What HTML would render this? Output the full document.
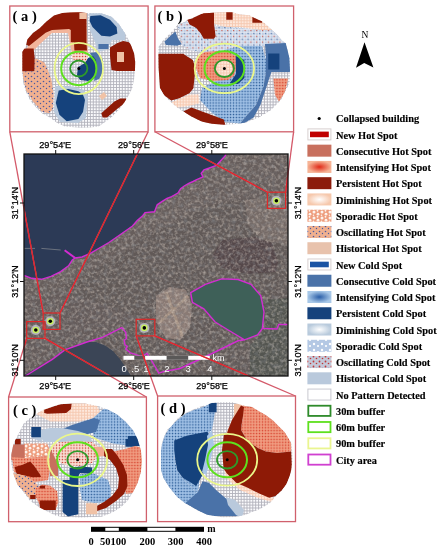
<!DOCTYPE html>
<html><head><meta charset="utf-8"><title>Hot spot analysis map</title>
<style>html,body{margin:0;padding:0;background:#fff;width:445px;height:550px;overflow:hidden}svg{display:block}</style>
</head><body>
<svg width="445" height="550" viewBox="0 0 445 550">
<g clip-path="url(#cM)">
<rect x="24" y="154" width="264" height="222" fill="#615957"/>
<polygon points="226.0,154.0 288.0,154.0 288.0,200.0 250.0,198.0 210.0,205.0 175.0,222.0 140.0,240.0 110.0,262.0 80.0,275.0 60.0,290.0 24.0,300.0 24.0,275.0 60.0,272.0 75.0,258.0 105.0,240.0 146.0,211.0 202.0,172.0" fill="#675e5c"/>
<polygon points="245.0,200.0 288.0,196.0 288.0,245.0 262.0,240.0 248.0,225.0" fill="#756a66"/>
<polygon points="24.0,300.0 60.0,292.0 90.0,300.0 120.0,310.0 136.0,318.0 128.0,328.0 100.0,338.0 70.0,346.0 40.0,362.0 24.0,370.0" fill="#645b5a"/>
<polygon points="222.0,240.0 255.0,237.0 272.0,243.0 278.0,262.0 276.0,272.0 248.0,274.0 222.0,268.0 212.0,256.0" fill="#55484a"/>
<polygon points="262.0,300.0 288.0,298.0 288.0,376.0 250.0,376.0 250.0,345.0 265.0,330.0" fill="#535550"/>
<polygon points="156.0,296.0 170.0,287.0 186.0,290.0 192.0,305.0 190.0,328.0 180.0,340.0 166.0,338.0 156.0,322.0" fill="#8a7a74"/>
<path d="M166 292L182 336M160 322L188 296" stroke="#a89484" stroke-width="3" opacity="0.8"/>
<rect x="24" y="154" width="264" height="222" fill="#fff" filter="url(#nz)" opacity="0.5"/>
<rect x="24" y="154" width="264" height="222" fill="#000" filter="url(#nz2)" opacity="0.5"/>
<polygon points="24.0,154.0 225.6,154.0 225.5,155.4 216.5,165.3 209.3,168.0 204.0,169.8 201.2,173.4 203.0,177.0 196.7,179.7 193.1,181.5 188.7,183.3 184.2,186.0 180.6,188.7 177.9,193.1 171.6,196.7 167.0,198.5 162.6,201.2 157.2,204.8 154.5,211.8 145.0,212.6 142.7,215.7 137.2,220.5 132.5,226.0 121.5,233.8 108.9,242.5 99.4,248.0 91.6,252.7 82.0,257.0 75.2,258.0 72.3,260.0 68.5,265.8 60.7,271.6 51.0,276.4 41.4,279.3 31.7,278.3 24.0,275.4" fill="#2c3a56"/>
<path d="M24 248.4H35M41.4 248.4L60.7 250" stroke="#7a8088" stroke-width="1" fill="none" opacity="0.8"/>
<polygon points="190.7,292.6 205.4,284.4 221.7,278.9 238.0,279.5 251.0,284.4 260.8,295.8 264.0,312.0 262.4,328.4 257.5,335.0 244.5,339.8 228.2,330.0 215.2,322.0 203.8,308.9 192.4,302.4" fill="#3e6058"/>
<polygon points="24.0,376.0 24.0,375.0 40.0,366.5 52.3,359.3 64.9,350.0 86.9,342.0 96.0,342.0 105.0,345.5 113.0,351.0 120.0,359.0 126.0,368.0 131.0,376.0" fill="#3b4556"/>
<polyline points="225.6,154.0 225.5,155.4 216.5,165.3 209.3,168.0 204.0,169.8 201.2,173.4 203.0,177.0 196.7,179.7 193.1,181.5 188.7,183.3 184.2,186.0 180.6,188.7 177.9,193.1 171.6,196.7 167.0,198.5 162.6,201.2 157.2,204.8 154.5,211.8 145.0,212.6 142.7,215.7 137.2,220.5 132.5,226.0 121.5,233.8 108.9,242.5 99.4,248.0 91.6,252.7 82.0,257.0 75.2,258.0 72.3,260.0 68.5,265.8 60.7,271.6 51.0,276.4 41.4,279.3 31.7,278.3 24.0,275.4" fill="none" stroke="#d22cd2" stroke-width="1.4"/>
<polyline points="75.2,258.0 64.6,250.3" fill="none" stroke="#d22cd2" stroke-width="2"/>
<polygon points="190.7,292.6 205.4,284.4 221.7,278.9 238.0,279.5 251.0,284.4 260.8,295.8 264.0,312.0 262.4,328.4 257.5,335.0 244.5,339.8 228.2,330.0 215.2,322.0 203.8,308.9 192.4,302.4" fill="none" stroke="#d22cd2" stroke-width="1.4"/>
<polyline points="24.0,377.0 27.0,375.0 52.3,359.3 64.9,349.9 86.9,342.0 102.6,337.3 121.8,327.6 125.7,332.3 126.5,338.6 124.2,340.2 125.0,344.9 127.3,346.5 125.7,348.8 130.4,352.8 137.5,355.1 141.5,356.7 147.0,353.5 152.5,362.2 158.8,373.2 163.5,371.6 180.0,368.5 209.0,355.0 238.0,340.8 244.5,339.8" fill="none" stroke="#d22cd2" stroke-width="1.4"/>
<polyline points="262.4,328.4 277.0,329.0 278.7,324.5 290.0,324.5" fill="none" stroke="#d22cd2" stroke-width="1.4"/>
<circle cx="50.3" cy="321.3" r="5" fill="#c8c8d8" opacity="0.75"/>
<circle cx="50.3" cy="321.3" r="3.3" fill="#c8f060"/>
<circle cx="50.3" cy="321.3" r="1.8" fill="#000"/>
<circle cx="35.8" cy="330" r="5" fill="#c8c8d8" opacity="0.75"/>
<circle cx="35.8" cy="330" r="3.3" fill="#c8f060"/>
<circle cx="35.8" cy="330" r="1.8" fill="#000"/>
<circle cx="144.3" cy="327.9" r="5" fill="#c8c8d8" opacity="0.75"/>
<circle cx="144.3" cy="327.9" r="3.3" fill="#c8f060"/>
<circle cx="144.3" cy="327.9" r="1.8" fill="#000"/>
<circle cx="276.4" cy="200.7" r="5" fill="#c8c8d8" opacity="0.75"/>
<circle cx="276.4" cy="200.7" r="3.3" fill="#c8f060"/>
<circle cx="276.4" cy="200.7" r="1.8" fill="#000"/>
<rect x="43.2" y="313" width="16.8" height="16.4" fill="none" stroke="#e02828" stroke-width="1.2"/>
<rect x="26.7" y="321.6" width="18.3" height="16.8" fill="none" stroke="#e02828" stroke-width="1.2"/>
<rect x="136.2" y="319.3" width="18.6" height="16.6" fill="none" stroke="#e02828" stroke-width="1.2"/>
<rect x="267.4" y="192.2" width="18.2" height="16.2" fill="none" stroke="#e02828" stroke-width="1.2"/>
<rect x="123.5" y="355.8" width="86.3" height="4" fill="#fff"/>
<rect x="134.3" y="355.8" width="10.8" height="4" fill="#5a5858"/>
<rect x="166.6" y="355.8" width="21.6" height="4" fill="#5a5858"/>
<text x="212.5" y="360.6" font-family="'Liberation Sans', Arial, sans-serif" font-size="9" fill="#fff">km</text>
<text x="124.2" y="372" font-family="'Liberation Sans', Arial, sans-serif" font-size="9.5" fill="#fff" text-anchor="middle">0</text>
<text x="135.3" y="372" font-family="'Liberation Sans', Arial, sans-serif" font-size="9.5" fill="#fff" text-anchor="middle">.5</text>
<text x="145.9" y="372" font-family="'Liberation Sans', Arial, sans-serif" font-size="9.5" fill="#fff" text-anchor="middle">1</text>
<text x="166.8" y="372" font-family="'Liberation Sans', Arial, sans-serif" font-size="9.5" fill="#fff" text-anchor="middle">2</text>
<text x="188.2" y="372" font-family="'Liberation Sans', Arial, sans-serif" font-size="9.5" fill="#fff" text-anchor="middle">3</text>
<text x="209.8" y="372" font-family="'Liberation Sans', Arial, sans-serif" font-size="9.5" fill="#fff" text-anchor="middle">4</text>
</g>
<line x1="9.8" y1="131.8" x2="43.2" y2="313" stroke="#d45a6a" stroke-width="1.3"/>
<line x1="148.1" y1="131.8" x2="60" y2="313" stroke="#d45a6a" stroke-width="1.3"/>
<line x1="154.9" y1="131.8" x2="267.4" y2="192.2" stroke="#d45a6a" stroke-width="1.3"/>
<line x1="293.6" y1="131.8" x2="285.6" y2="192.2" stroke="#d45a6a" stroke-width="1.3"/>
<line x1="26.7" y1="338.4" x2="8.6" y2="397" stroke="#d45a6a" stroke-width="1.3"/>
<line x1="45" y1="338.4" x2="146.4" y2="397" stroke="#d45a6a" stroke-width="1.3"/>
<line x1="136.2" y1="335.9" x2="157.6" y2="396" stroke="#d45a6a" stroke-width="1.3"/>
<line x1="154.8" y1="335.9" x2="295.5" y2="396" stroke="#d45a6a" stroke-width="1.3"/>
<g clip-path="url(#cM)">
<line x1="9.8" y1="131.8" x2="43.2" y2="313" stroke="#e0242c" stroke-width="1.3"/>
<line x1="148.1" y1="131.8" x2="60" y2="313" stroke="#e0242c" stroke-width="1.3"/>
<line x1="154.9" y1="131.8" x2="267.4" y2="192.2" stroke="#e0242c" stroke-width="1.3"/>
<line x1="293.6" y1="131.8" x2="285.6" y2="192.2" stroke="#e0242c" stroke-width="1.3"/>
<line x1="26.7" y1="338.4" x2="8.6" y2="397" stroke="#e0242c" stroke-width="1.3"/>
<line x1="45" y1="338.4" x2="146.4" y2="397" stroke="#e0242c" stroke-width="1.3"/>
<line x1="136.2" y1="335.9" x2="157.6" y2="396" stroke="#e0242c" stroke-width="1.3"/>
<line x1="154.8" y1="335.9" x2="295.5" y2="396" stroke="#e0242c" stroke-width="1.3"/>
</g>
<rect x="24" y="154" width="264" height="222" fill="none" stroke="#111" stroke-width="1.3"/>
<line x1="55.7" y1="150" x2="55.7" y2="154" stroke="#111" stroke-width="1"/>
<line x1="55.7" y1="376" x2="55.7" y2="380" stroke="#111" stroke-width="1"/>
<line x1="133.7" y1="150" x2="133.7" y2="154" stroke="#111" stroke-width="1"/>
<line x1="133.7" y1="376" x2="133.7" y2="380" stroke="#111" stroke-width="1"/>
<line x1="211.8" y1="150" x2="211.8" y2="154" stroke="#111" stroke-width="1"/>
<line x1="211.8" y1="376" x2="211.8" y2="380" stroke="#111" stroke-width="1"/>
<text x="55.2" y="147.7" font-family="'Liberation Sans', Arial, sans-serif" font-size="9.2" text-anchor="middle" stroke="#000" stroke-width="0.25">29°54'E</text>
<text x="55.2" y="389.4" font-family="'Liberation Sans', Arial, sans-serif" font-size="9.1" text-anchor="middle" stroke="#000" stroke-width="0.25">29°54'E</text>
<text x="134" y="147.7" font-family="'Liberation Sans', Arial, sans-serif" font-size="9.2" text-anchor="middle" stroke="#000" stroke-width="0.25">29°56'E</text>
<text x="134" y="389.4" font-family="'Liberation Sans', Arial, sans-serif" font-size="9.1" text-anchor="middle" stroke="#000" stroke-width="0.25">29°56'E</text>
<text x="212" y="147.7" font-family="'Liberation Sans', Arial, sans-serif" font-size="9.2" text-anchor="middle" stroke="#000" stroke-width="0.25">29°58'E</text>
<text x="212" y="389.4" font-family="'Liberation Sans', Arial, sans-serif" font-size="9.1" text-anchor="middle" stroke="#000" stroke-width="0.25">29°58'E</text>
<line x1="20" y1="203" x2="24" y2="203" stroke="#111" stroke-width="1"/>
<line x1="288" y1="203" x2="292" y2="203" stroke="#111" stroke-width="1"/>
<text transform="translate(17.8,203) rotate(-90)" font-family="'Liberation Sans', Arial, sans-serif" font-size="9.2" text-anchor="middle" stroke="#000" stroke-width="0.25">31°14'N</text>
<text transform="translate(301.2,203) rotate(-90)" font-family="'Liberation Sans', Arial, sans-serif" font-size="9.2" text-anchor="middle" stroke="#000" stroke-width="0.25">31°14'N</text>
<line x1="20" y1="281.5" x2="24" y2="281.5" stroke="#111" stroke-width="1"/>
<line x1="288" y1="281.5" x2="292" y2="281.5" stroke="#111" stroke-width="1"/>
<text transform="translate(17.8,281.5) rotate(-90)" font-family="'Liberation Sans', Arial, sans-serif" font-size="9.2" text-anchor="middle" stroke="#000" stroke-width="0.25">31°12'N</text>
<text transform="translate(301.2,281.5) rotate(-90)" font-family="'Liberation Sans', Arial, sans-serif" font-size="9.2" text-anchor="middle" stroke="#000" stroke-width="0.25">31°12'N</text>
<line x1="20" y1="360.3" x2="24" y2="360.3" stroke="#111" stroke-width="1"/>
<line x1="288" y1="360.3" x2="292" y2="360.3" stroke="#111" stroke-width="1"/>
<text transform="translate(17.8,360.3) rotate(-90)" font-family="'Liberation Sans', Arial, sans-serif" font-size="9.2" text-anchor="middle" stroke="#000" stroke-width="0.25">31°10'N</text>
<text transform="translate(301.2,360.3) rotate(-90)" font-family="'Liberation Sans', Arial, sans-serif" font-size="9.2" text-anchor="middle" stroke="#000" stroke-width="0.25">31°10'N</text>
<text x="364.9" y="37.8" font-family="'Liberation Serif', 'Times New Roman', serif" font-size="9.5" text-anchor="middle">N</text>
<polygon points="364.5,42.2 373.4,67.4 364.2,62.9 356.0,67.8" fill="#000"/>
<rect x="91" y="526.8" width="113" height="5" fill="#000"/>
<rect x="105.3" y="527.8" width="13.5" height="3" fill="#fff"/>
<rect x="147.4" y="527.8" width="28" height="3" fill="#fff"/>
<text x="207.2" y="531.8" font-family="'Liberation Serif', 'Times New Roman', serif" font-weight="bold" font-size="10">m</text>
<text x="91" y="544.6" font-family="'Liberation Serif', 'Times New Roman', serif" font-weight="bold" font-size="10.5" text-anchor="middle">0</text>
<text x="113" y="544.6" font-family="'Liberation Serif', 'Times New Roman', serif" font-weight="bold" font-size="10.5" text-anchor="middle">50100</text>
<text x="147.4" y="544.6" font-family="'Liberation Serif', 'Times New Roman', serif" font-weight="bold" font-size="10.5" text-anchor="middle">200</text>
<text x="175.6" y="544.6" font-family="'Liberation Serif', 'Times New Roman', serif" font-weight="bold" font-size="10.5" text-anchor="middle">300</text>
<text x="204" y="544.6" font-family="'Liberation Serif', 'Times New Roman', serif" font-weight="bold" font-size="10.5" text-anchor="middle">400</text>

<defs>
 <pattern id="gW" width="2.9" height="2.9" patternUnits="userSpaceOnUse">
  <rect width="2.9" height="2.9" fill="#fbfbfd"/>
  <path d="M0 0.45H2.9M0.45 0V2.9" stroke="#b2b2bc" stroke-width="0.95" fill="none"/>
 </pattern>
 <pattern id="gB" width="2.9" height="2.9" patternUnits="userSpaceOnUse">
  <rect width="2.9" height="2.9" fill="#a6c6ea"/>
  <rect x="0.75" y="0.75" width="1.45" height="1.45" fill="#2a5a96"/>
 </pattern>
 <pattern id="gC" width="2.9" height="2.9" patternUnits="userSpaceOnUse">
  <rect width="2.9" height="2.9" fill="#f2a286"/>
  <rect x="0.75" y="0.75" width="1.45" height="1.45" fill="#d6402c"/>
 </pattern>
 <pattern id="gP" width="2.9" height="2.9" patternUnits="userSpaceOnUse">
  <rect width="2.9" height="2.9" fill="#fde8dc"/>
  <path d="M0 0.45H2.9M0.45 0V2.9" stroke="#f6c8b0" stroke-width="0.95" fill="none"/>
 </pattern>
 <pattern id="gO" width="2.9" height="2.9" patternUnits="userSpaceOnUse">
  <rect width="2.9" height="2.9" fill="#eeaa8c"/>
  <rect x="1" y="1" width="0.9" height="0.9" fill="#6a78b0"/>
 </pattern>
 <pattern id="gR" width="2.9" height="2.9" patternUnits="userSpaceOnUse">
  <rect width="2.9" height="2.9" fill="#fbe2d8"/>
  <rect x="0.8" y="0.8" width="1.3" height="1.3" fill="#c42a1e"/>
 </pattern>
 <pattern id="osB" width="5.8" height="5.8" patternUnits="userSpaceOnUse">
  <rect width="5.8" height="5.8" fill="#bccbe0"/>
  <rect x="0.8" y="0.8" width="1.3" height="1.3" fill="#c85a4c"/>
  <rect x="3.7" y="3.7" width="1.3" height="1.3" fill="#4a70a8"/>
  <path d="M0 0.4H5.8M0 3.3H5.8M0.4 0V5.8M3.3 0V5.8" stroke="#e8ecf4" stroke-width="0.8"/>
 </pattern>
 <pattern id="gX" width="2.9" height="2.9" patternUnits="userSpaceOnUse">
  <rect width="2.9" height="2.9" fill="#c4cce0"/>
  <rect x="0.9" y="0.9" width="1.1" height="1.1" fill="#c0584c"/>
 </pattern>
 <pattern id="spH" width="8" height="6" patternUnits="userSpaceOnUse">
  <rect width="8" height="6" fill="#ee9c7c"/>
  <circle cx="2" cy="2" r="1.5" fill="#fdf2ec"/><circle cx="6" cy="4.2" r="1.4" fill="#fdf2ec"/><circle cx="5.5" cy="0.8" r="0.9" fill="#fdf2ec"/><circle cx="1.5" cy="5.2" r="0.8" fill="#fdf2ec"/>
 </pattern>
 <pattern id="osH" width="6" height="5" patternUnits="userSpaceOnUse">
  <rect width="6" height="5" fill="#f0b090"/>
  <circle cx="1.5" cy="1.5" r="0.8" fill="#4a5aa0"/><circle cx="4.5" cy="3.5" r="0.7" fill="#4a5aa0"/>
 </pattern>
 <pattern id="spC" width="8" height="6" patternUnits="userSpaceOnUse">
  <rect width="8" height="6" fill="#b4c8e4"/>
  <circle cx="2" cy="2" r="1.2" fill="#fff"/><circle cx="6" cy="4" r="1.1" fill="#fff"/>
 </pattern>
 <pattern id="osC" width="6" height="5" patternUnits="userSpaceOnUse">
  <rect width="6" height="5" fill="#c4c8d8"/>
  <circle cx="1.5" cy="1.5" r="0.9" fill="#c03838"/><circle cx="4.5" cy="3.5" r="0.8" fill="#c03838"/>
 </pattern>
 <radialGradient id="inH"><stop offset="0" stop-color="#e02a18"/><stop offset="1" stop-color="#f6b496"/></radialGradient>
 <radialGradient id="dmH"><stop offset="0" stop-color="#ffffff"/><stop offset="1" stop-color="#f6c8ac"/></radialGradient>
 <radialGradient id="inC"><stop offset="0" stop-color="#2a5ea8"/><stop offset="1" stop-color="#a8c8e8"/></radialGradient>
 <radialGradient id="dmC"><stop offset="0" stop-color="#ffffff"/><stop offset="1" stop-color="#b8cadc"/></radialGradient>
 <clipPath id="cA"><polygon points="62.4,13.1 70,12.5 78.4,12.3 88.9,13.2 101.3,13.2 111.5,16.8 118.8,24 124.7,32.8 129,40.6 131.4,46.2 134.1,53.5 135.2,62 135,70 134.1,79.1 132.3,88.2 128.6,95.5 124.1,102.7 118.6,110 111.4,117.3 104.1,122.7 98.6,126.4 90,127.6 80,127.8 65,126.4 56.8,122.7 49.5,117.3 42.3,113.6 36.8,108.2 30.5,100.9 25.9,91.8 23.2,82.7 22.3,71.8 22.3,51.8 25.9,46.5 27.3,39.5 33,33 39.9,28 46.2,21.7 54,15.4"/></clipPath>
 <clipPath id="cB"><polygon points="209.3,13 220,12.3 232,12.3 240,14.5 249.3,15.2 252.4,17 262.2,21.5 266,24.5 272.1,30.1 277.1,34.4 282,40.6 285.7,43.1 287.6,50.5 289.4,57.9 290,70 289.4,81.6 287.6,86.5 284.5,92.7 280.8,100.1 275.8,105.1 270.9,110 264.7,113.7 258.5,117.4 252.4,119.9 246.2,122.4 236,124 223.8,124.8 211.6,123.8 201.5,121.6 191.4,116.5 183.3,111.5 177.2,107.4 170.2,101.4 164.1,95.3 160,88.2 158.6,68 158.4,53.8 158.4,47 163,40.4 168.5,35 173.9,29.6 178,24.2 186,21.3 187.2,19.6 192.8,18 203,13.2"/></clipPath>
 <clipPath id="cC"><polygon points="71.7,403.4 85,403.5 99.4,406.6 108.1,409.8 116.8,414.2 125.6,421.8 133.2,430.6 137.6,439.3 140.9,450.2 141.9,461.1 140.9,472 137.6,483 133.2,491.7 127.8,500.4 121.2,507 112.5,512.4 101.6,516.8 80,517.6 62,516.8 56,515.7 47.3,511.4 38.6,507 29.8,500.4 23.3,491.7 17.8,485.2 13.5,474.2 11.3,463.3 11.3,454.6 13.5,443.7 17.8,434.9 23.7,423.5 30,418 36.3,413.7 44.2,409.6 50.5,407.2 60,404.2"/></clipPath>
 <clipPath id="cD"><polygon points="218.2,402.2 232,402.2 245,405.9 252,407.1 259,411.2 266,415.3 273,420.5 278.9,426.4 284.7,432.2 288.2,438.1 291.2,442.7 292.3,452 292.3,462 291.2,470 289.6,476.5 286.5,484 281.8,490.6 275.5,496.5 270,503 260,509 245,515 235,517 222,517.2 207.2,514.8 196.2,509.8 185.2,503.2 177.3,496.9 169.4,487.5 163.5,478 161,470 161,450 161.6,444.8 163.9,436.9 167.1,429.8 171,426.7 176.5,419.6 183.6,414.1 191.5,410.2 199.3,407 207.2,404.7 211.9,403.1"/></clipPath>
 <filter id="nz" x="0" y="0" width="100%" height="100%">
  <feTurbulence type="fractalNoise" baseFrequency="0.32" numOctaves="2" seed="7" result="t"/>
  <feColorMatrix in="t" type="matrix" values="0 0 0 0 0.86  0 0 0 0 0.77  0 0 0 0 0.68  2.2 0 0 0 -0.95" result="w"/>
  <feComposite in="w" in2="SourceGraphic" operator="in"/>
 </filter>
 <filter id="nz2" x="0" y="0" width="100%" height="100%">
  <feTurbulence type="fractalNoise" baseFrequency="0.25" numOctaves="2" seed="3" result="t"/>
  <feColorMatrix in="t" type="matrix" values="0 0 0 0 0.22  0 0 0 0 0.23  0 0 0 0 0.25  0 2.2 0 0 -0.95" result="w"/>
  <feComposite in="w" in2="SourceGraphic" operator="in"/>
 </filter>
 <clipPath id="cM"><rect x="24" y="154" width="264" height="222"/></clipPath>
</defs>

<rect x="9.8" y="6.0" width="138.3" height="125.8" fill="#fff" stroke="#d0606c" stroke-width="1.3"/>
<rect x="154.9" y="6.0" width="138.7" height="125.8" fill="#fff" stroke="#d0606c" stroke-width="1.3"/>
<rect x="8.6" y="397" width="137.8" height="124.7" fill="#fff" stroke="#d0606c" stroke-width="1.3"/>
<rect x="157.6" y="396" width="137.9" height="125.6" fill="#fff" stroke="#d0606c" stroke-width="1.3"/>
<g clip-path="url(#cA)">
<rect x="20.300000000000004" y="10.299999999999997" width="116.8" height="118.6" fill="url(#gW)"/>
<polygon points="26.0,50.0 34.0,36.0 47.0,22.0 62.0,13.0 86.0,11.0 88.0,54.0 72.0,54.0 68.0,33.0 52.0,33.0 40.0,44.0 30.0,54.0" fill="#f2b49a"/>
<polygon points="24.0,44.0 26.0,36.0 34.0,28.0 42.0,20.0 52.0,13.0 62.4,10.0 78.4,10.0 86.5,10.0 86.5,42.5 87.0,50.6 74.4,50.6 74.0,42.5 70.8,42.0 70.8,30.0 69.0,29.0 52.0,30.0 45.6,32.8 34.6,41.6 29.0,46.0" fill="#8e1a06"/>
<polygon points="79.4,13.0 86.7,13.0 86.7,19.0 79.4,19.0" fill="#f0c2a6"/>
<polygon points="20.0,48.5 33.6,48.5 35.0,60.0 34.6,71.6 20.0,71.6" fill="#8e1a06"/>
<polygon points="34.6,58.0 44.0,62.0 47.8,69.4 51.4,79.6 53.6,94.2 52.9,108.8 49.2,113.2 42.0,111.7 33.0,101.5 25.8,89.8 22.0,71.6 34.6,71.6" fill="url(#osH)"/>
<polygon points="89.0,13.0 95.0,12.0 108.0,14.0 120.0,20.0 126.0,30.0 125.0,40.0 112.0,40.0 106.0,50.0 98.0,52.0 95.0,42.0 90.0,30.0" fill="#b9c9dc"/>
<polygon points="90.3,16.0 100.6,15.3 110.0,19.7 116.6,27.0 117.4,33.6 110.0,36.5 101.3,35.8 92.5,27.0 89.6,21.0" fill="#15427c"/>
<polygon points="98.4,44.0 108.6,44.0 108.6,49.0 98.4,49.0" fill="#4a72a8"/>
<polygon points="110.0,47.4 117.4,43.0 123.2,40.9 129.0,42.3 133.4,47.4 136.0,56.0 136.0,71.0 117.0,71.0 111.5,70.0 110.0,56.0" fill="#8e1a06"/>
<polygon points="117.0,52.0 124.0,52.0 124.0,62.0 117.0,62.0" fill="#f0c2a6"/>
<polygon points="90.0,53.0 98.0,52.0 103.0,60.0 103.0,72.0 99.0,79.0 94.0,81.0 96.0,68.0 93.0,58.0" fill="#4a72a8"/>
<polygon points="78.0,67.0 85.0,63.0 88.0,58.0 93.0,56.0 96.0,60.0 97.0,70.0 95.0,78.0 88.0,81.0 80.0,80.0 77.0,75.0" fill="#15427c"/>
<polygon points="72.0,52.0 87.0,52.0 88.0,58.0 85.0,62.0 76.0,62.0 72.0,58.0" fill="url(#gR)"/>
<polygon points="55.0,86.0 70.0,86.0 84.0,90.0 88.0,96.0 86.0,118.0 78.0,123.0 60.0,122.0 54.0,112.0" fill="#b9c9dc"/>
<polygon points="58.7,90.6 68.2,89.1 78.4,91.3 82.8,94.2 85.0,100.0 83.0,112.0 78.4,119.0 66.7,121.2 59.4,114.7 55.8,103.0" fill="#15427c"/>
<polygon points="101.3,113.2 114.4,101.5 120.3,98.6 126.0,98.6 126.9,101.5 117.4,108.8 107.0,117.6 102.7,117.6" fill="#8e1a06"/>
<polygon points="99.0,96.0 104.0,92.0 107.0,96.0 102.0,100.0" fill="#f0c2a6"/>
</g>
<ellipse cx="78.8" cy="68.5" rx="24.3" ry="25.6" fill="none" stroke="#eaf78a" stroke-width="1.8"/>
<ellipse cx="78.8" cy="68.5" rx="17.6" ry="16.7" fill="none" stroke="#5ee01e" stroke-width="2"/>
<ellipse cx="78.8" cy="68.5" rx="8.6" ry="8.0" fill="none" stroke="#2e9a2a" stroke-width="1.8"/>
<circle cx="78.8" cy="68.5" r="1.5" fill="#000"/>
<g clip-path="url(#cB)">
<rect x="156.39999999999998" y="10.299999999999997" width="135.6" height="116.4" fill="url(#gW)"/>
<polygon points="196.0,10.0 255.0,10.0 266.0,24.5 272.0,30.0 260.0,30.0 240.0,27.0 225.0,27.0 215.0,24.0" fill="url(#gP)"/>
<polygon points="178.0,26.0 186.0,21.5 200.0,28.0 215.0,26.0 240.0,28.0 262.0,30.0 272.0,30.1 277.0,34.4 282.0,40.6 285.7,43.1 280.0,46.0 265.0,46.0 245.0,47.0 225.0,51.0 205.0,53.0 190.0,50.0 182.0,45.0" fill="url(#osB)"/>
<polygon points="226.3,12.0 232.6,12.0 232.6,19.8 226.3,19.8" fill="#8e1a06"/>
<polygon points="252.4,17.1 258.0,17.1 258.0,19.5 262.2,19.5 262.2,22.7 252.4,22.7" fill="#8e1a06"/>
<polygon points="187.2,19.8 192.8,18.2 194.0,15.0 203.0,13.5 209.3,10.0 214.0,10.0 214.0,23.7 215.6,36.3 214.0,38.7 203.8,38.7 200.6,33.2 196.0,27.7 189.6,24.5" fill="#8e1a06"/>
<polygon points="164.4,41.8 170.0,36.3 175.4,31.6 177.8,37.9 181.7,44.2 177.0,45.8 166.0,45.0" fill="#4a72a8"/>
<polygon points="262.0,70.0 292.0,66.0 292.0,100.0 276.0,112.0 258.0,120.0 262.0,100.0" fill="url(#gW)"/>
<polygon points="224.0,50.0 240.0,46.0 262.0,46.0 266.0,60.0 271.4,72.0 266.0,72.0 263.5,86.5 256.0,105.0 245.0,117.4 240.0,123.6 225.0,122.0 212.0,113.0 200.0,100.0 202.0,88.0 218.0,80.0 232.0,72.0" fill="url(#gB)"/>
<polygon points="265.0,44.0 286.0,43.0 292.0,50.0 292.0,72.0 266.0,72.0 266.0,60.0" fill="#4a72a8"/>
<polygon points="268.2,53.6 279.4,53.6 279.4,69.6 268.2,69.6" fill="#15427c"/>
<polygon points="271.4,72.0 266.6,86.5 260.4,105.0 253.6,117.4 243.7,123.6 235.0,126.0 228.0,126.0 240.0,123.6 245.0,117.4 256.0,105.0 263.5,86.5 266.0,72.0" fill="#4a72a8"/>
<polygon points="273.4,78.5 288.2,78.5 285.0,92.0 279.0,101.4 275.0,95.0" fill="url(#gC)"/>
<polygon points="197.0,56.0 205.0,52.0 216.0,51.0 228.0,52.0 236.0,56.0 238.0,64.0 234.0,76.0 228.0,80.0 212.0,81.0 200.0,78.0 196.0,68.0" fill="url(#gC)"/>
<polygon points="217.0,63.0 224.0,60.0 231.0,63.0 233.0,70.0 228.0,76.0 220.0,76.0 216.0,70.0" fill="url(#gP)"/>
<polygon points="235.7,56.0 244.4,60.0 244.4,78.0 238.0,84.0 230.0,83.0 236.0,74.0" fill="#15427c"/>
<polygon points="156.0,53.8 183.3,53.8 186.5,56.0 192.8,60.0 195.5,68.0 193.4,88.2 189.4,93.3 179.3,98.3 171.2,100.4 164.1,95.3 160.0,88.2 156.0,88.0" fill="#8e1a06"/>
<polygon points="171.2,102.4 179.3,99.0 189.4,94.5 198.5,94.3 199.5,103.4 185.3,106.4 177.2,107.4" fill="url(#gP)"/>
<polygon points="183.3,111.5 191.4,107.4 207.6,113.5 223.8,119.6 226.0,127.0 207.6,124.0 191.4,118.0" fill="#8e1a06"/>
</g>
<ellipse cx="224.4" cy="68.4" rx="29.7" ry="24.8" fill="none" stroke="#eaf78a" stroke-width="1.8"/>
<ellipse cx="224.4" cy="68.4" rx="19.9" ry="17.2" fill="none" stroke="#5ee01e" stroke-width="2"/>
<ellipse cx="224.4" cy="68.4" rx="9.6" ry="8.6" fill="none" stroke="#2e9a2a" stroke-width="1.8"/>
<circle cx="224.4" cy="68.4" r="1.5" fill="#000"/>
<g clip-path="url(#cC)">
<rect x="9.299999999999997" y="402.0" width="134.6" height="117.0" fill="url(#gW)"/>
<polygon points="36.0,413.7 44.0,409.0 72.0,403.0 96.0,403.0 100.0,412.0 94.0,418.0 78.0,421.6 50.0,421.6" fill="url(#gP)"/>
<polygon points="44.2,409.8 50.5,407.4 60.0,404.3 71.7,403.5 71.0,409.0 66.2,413.0 47.3,413.7 44.2,413.0" fill="#8e1a06"/>
<polygon points="92.5,418.4 103.5,409.0 111.3,409.0 122.3,415.3 131.8,424.7 136.5,435.8 138.0,442.0 125.5,445.2 113.0,443.6 103.5,440.5 94.0,437.3 92.5,429.5" fill="url(#gB)"/>
<polygon points="60.0,430.0 72.0,425.0 94.0,418.0 100.0,420.0 96.0,432.0 88.0,434.0 72.0,437.0 60.0,436.0" fill="#4a72a8"/>
<polygon points="125.5,439.0 135.0,439.0 135.0,446.8 125.5,446.8" fill="#15427c"/>
<polygon points="41.0,430.0 50.0,428.0 62.0,428.0 78.0,431.0 90.0,435.0 92.0,441.0 75.0,442.0 60.0,442.0 44.0,442.0 41.0,438.0" fill="#b9c9dc"/>
<polygon points="30.0,432.0 40.0,428.0 42.0,442.0 32.0,438.0" fill="#b9c9dc"/>
<polygon points="31.3,427.0 40.9,427.0 40.9,437.3 31.3,437.3" fill="#15427c"/>
<polygon points="24.0,443.5 47.0,443.5 50.0,450.0 47.0,456.0 24.0,458.0" fill="url(#spH)"/>
<polygon points="11.0,444.6 24.6,444.6 24.6,460.3 11.0,460.3" fill="#c8705e"/>
<polygon points="15.0,439.0 20.7,439.0 20.7,444.6 15.0,444.6" fill="#8e1a06"/>
<polygon points="12.0,457.0 24.6,458.0 47.0,456.0 52.0,460.0 50.0,470.0 48.0,480.0 35.0,482.0 24.0,476.0 14.0,472.0" fill="url(#gC)"/>
<polygon points="50.0,450.0 58.0,450.0 58.0,476.0 50.0,476.0" fill="#c8705e"/>
<polygon points="52.0,445.0 60.0,442.0 75.0,441.0 92.0,442.0 99.0,447.0 98.0,456.0 92.0,463.0 80.0,466.0 65.0,465.0 56.0,460.0 52.0,452.0" fill="url(#gR)"/>
<polygon points="14.5,467.0 22.0,465.0 30.2,461.5 35.0,467.0 40.3,475.0 41.0,477.0 32.5,477.2 16.7,473.8" fill="#8e1a06"/>
<polygon points="12.0,473.0 26.0,476.0 35.0,482.0 40.0,488.0 35.6,496.6 30.0,499.0 23.5,491.0 14.0,482.0" fill="url(#osH)"/>
<polygon points="35.6,488.5 42.4,484.4 50.4,485.8 57.2,491.2 58.5,502.0 55.8,508.7 47.8,510.0 39.7,504.7 35.6,496.6" fill="url(#gC)"/>
<polygon points="39.7,500.6 55.8,500.6 55.8,510.0 39.7,510.0" fill="#8e1a06"/>
<polygon points="39.7,485.8 45.0,485.8 45.0,488.5 39.7,488.5" fill="#8e1a06"/>
<polygon points="30.2,495.0 35.6,495.0 35.6,499.0 30.2,499.0" fill="#8e1a06"/>
<polygon points="62.6,480.0 70.0,480.0 70.0,474.0 78.3,476.5 78.3,514.2 68.0,516.5 62.6,512.0" fill="#15427c"/>
<polygon points="69.6,468.0 80.0,466.5 92.2,467.5 92.0,473.8 80.0,473.0 76.0,481.0 69.6,481.0" fill="#15427c"/>
<polygon points="80.0,474.0 95.0,474.0 108.0,480.0 111.3,490.0 110.0,501.6 95.0,503.0 82.0,500.0 80.0,490.0" fill="url(#gB)"/>
<polygon points="112.0,452.0 125.0,449.0 135.0,446.0 143.0,448.0 143.0,460.0 143.0,475.0 139.0,485.0 133.0,493.0 126.0,494.0 124.0,485.0 123.0,472.0 117.0,459.0" fill="url(#gC)"/>
<polygon points="103.7,449.0 112.0,449.0 117.0,455.0 123.4,465.0 127.0,475.0 127.5,486.0 124.0,494.0 116.0,501.0 106.0,508.0 97.0,511.0 95.0,507.0 104.0,502.0 112.0,496.0 118.0,488.0 119.0,478.0 116.0,468.0 110.0,460.0 104.0,456.0" fill="#8e1a06"/>
<polygon points="95.0,447.0 103.7,447.0 104.0,456.0 95.0,457.0" fill="#f2a890"/>
<polygon points="127.8,436.0 142.0,436.0 142.0,446.0 127.8,446.0" fill="#15427c"/>
<polygon points="86.0,503.2 97.2,503.2 97.2,514.2 86.0,514.2" fill="#f0c2a6"/>
</g>
<ellipse cx="77.6" cy="459.8" rx="29.6" ry="26.2" fill="none" stroke="#eaf78a" stroke-width="1.8"/>
<ellipse cx="77.6" cy="459.8" rx="20.4" ry="17.5" fill="none" stroke="#5ee01e" stroke-width="2"/>
<ellipse cx="77.6" cy="459.8" rx="10.2" ry="8.7" fill="none" stroke="#2e9a2a" stroke-width="1.8"/>
<circle cx="77.6" cy="459.8" r="1.5" fill="#000"/>
<g clip-path="url(#cD)">
<rect x="158.89999999999998" y="400.0" width="135.4" height="118.8" fill="url(#gW)"/>
<polygon points="161.6,445.2 164.7,435.8 169.4,427.9 175.7,421.6 185.2,413.7 194.6,409.8 204.0,406.7 208.8,404.3 216.6,402.7 215.0,412.2 212.0,429.5 207.2,434.2 200.0,440.0 190.0,460.0 200.0,475.0 197.8,493.8 191.5,487.5 183.6,479.6 177.3,470.2 174.2,456.0 160.0,460.0" fill="url(#gB)"/>
<polygon points="160.0,455.0 174.0,456.0 177.0,470.0 184.0,480.0 192.0,488.0 198.0,494.0 186.0,504.0 175.0,500.0 164.0,490.0 160.0,475.0" fill="url(#gB)"/>
<polygon points="208.8,402.7 216.6,402.7 216.6,412.2 208.8,412.2" fill="#15427c"/>
<polygon points="174.2,440.5 186.7,435.8 197.8,433.4 207.2,431.8 210.3,435.8 208.8,445.2 205.6,462.0 204.0,468.0 202.5,474.9 196.2,485.9 190.0,482.0 183.0,478.0 177.3,470.2 175.7,462.0 174.2,449.9" fill="#15427c"/>
<polygon points="207.0,436.0 212.0,430.0 214.0,445.0 210.0,462.0 206.0,475.0 202.0,472.0 205.0,460.0 208.0,445.0" fill="#a9c6e6"/>
<polygon points="185.2,503.2 197.8,492.2 202.5,481.2 208.8,482.7 216.6,490.6 226.0,498.5 237.7,505.0 240.0,516.0 207.2,516.0 196.2,509.5" fill="#4a72a8"/>
<polygon points="226.0,497.0 235.0,500.0 244.0,510.0 242.0,518.0 236.0,515.0 228.0,505.0" fill="#b9c9dc"/>
<polygon points="242.5,404.3 252.0,405.9 263.0,410.6 272.3,416.9 281.8,426.3 288.0,435.8 291.2,443.6 291.2,451.5 277.0,453.0 266.0,451.5 258.2,448.3 247.2,440.5 240.9,429.5 242.5,420.0" fill="url(#gC)"/>
<polygon points="234.0,404.0 242.0,403.0 242.0,420.0 236.0,430.0 228.0,440.0 224.0,438.0 230.0,425.0 234.0,415.0" fill="#f0c2a6"/>
<polygon points="241.0,405.5 244.0,407.0 243.0,416.0 241.5,425.0 241.0,432.0 234.0,436.0 226.0,437.0 228.0,430.0 232.0,420.0 237.0,412.0" fill="#8e1a06"/>
<polygon points="224.0,468.0 240.0,480.0 260.0,492.0 276.0,499.0 272.0,502.0 258.0,498.0 240.0,490.0 226.0,478.0" fill="url(#gP)"/>
<polygon points="224.0,434.0 234.0,432.0 241.0,430.0 247.2,440.5 258.2,448.3 266.0,451.5 277.0,453.0 291.2,451.5 292.0,470.0 289.6,476.5 286.5,484.3 281.8,490.6 275.5,496.1 269.2,497.7 259.8,493.8 247.2,487.5 236.2,482.7 226.7,473.3 223.6,468.6 222.0,450.0" fill="#8e1a06"/>
</g>
<ellipse cx="227.2" cy="459.8" rx="30" ry="25.9" fill="none" stroke="#eaf78a" stroke-width="1.8"/>
<ellipse cx="227.2" cy="459.8" rx="19.8" ry="17.5" fill="none" stroke="#5ee01e" stroke-width="2"/>
<ellipse cx="227.2" cy="459.8" rx="10.2" ry="8.7" fill="none" stroke="#2e9a2a" stroke-width="1.8"/>
<circle cx="227.2" cy="459.8" r="1.5" fill="#000"/>
<text x="12.6" y="21.3" font-family="'Liberation Serif', 'Times New Roman', serif" font-weight="bold" font-size="14.5">( a )</text>
<text x="157.5" y="21.0" font-family="'Liberation Serif', 'Times New Roman', serif" font-weight="bold" font-size="14.5">( b )</text>
<text x="13.1" y="414.6" font-family="'Liberation Serif', 'Times New Roman', serif" font-weight="bold" font-size="14.5">( c )</text>
<text x="160.6" y="412.5" font-family="'Liberation Serif', 'Times New Roman', serif" font-weight="bold" font-size="14.5">( d )</text>
<circle cx="319.2" cy="118.5" r="1.6" fill="#000"/>
<text x="336" y="122.4" font-family="'Liberation Serif', 'Times New Roman', serif" font-weight="bold" font-size="10.35" stroke="#000" stroke-width="0.15">Collapsed building</text>
<rect x="307.9" y="128.9" width="23" height="11" fill="#fff" stroke="#d8d0d0" stroke-width="1"/>
<rect x="310.0" y="131.6" width="18.8" height="5.6" fill="#c00000"/>
<text x="336" y="138.5" font-family="'Liberation Serif', 'Times New Roman', serif" font-weight="bold" font-size="10.35" stroke="#000" stroke-width="0.15">New Hot Spot</text>
<rect x="307.4" y="144.66" width="24" height="12" fill="#c8705e"/>
<text x="336" y="154.8" font-family="'Liberation Serif', 'Times New Roman', serif" font-weight="bold" font-size="10.35" stroke="#000" stroke-width="0.15">Consecutive Hot Spot</text>
<rect x="307.4" y="160.92000000000002" width="24" height="12" fill="url(#inH)"/>
<text x="336" y="171.0" font-family="'Liberation Serif', 'Times New Roman', serif" font-weight="bold" font-size="10.35" stroke="#000" stroke-width="0.15">Intensifying Hot Spot</text>
<rect x="307.4" y="177.18" width="24" height="12" fill="#8c1c0c"/>
<text x="336" y="187.3" font-family="'Liberation Serif', 'Times New Roman', serif" font-weight="bold" font-size="10.35" stroke="#000" stroke-width="0.15">Persistent Hot Spot</text>
<rect x="307.4" y="193.44" width="24" height="12" fill="url(#dmH)"/>
<text x="336" y="203.5" font-family="'Liberation Serif', 'Times New Roman', serif" font-weight="bold" font-size="10.35" stroke="#000" stroke-width="0.15">Diminishing Hot Spot</text>
<rect x="307.4" y="209.70000000000002" width="24" height="12" fill="url(#spH)"/>
<text x="336" y="219.8" font-family="'Liberation Serif', 'Times New Roman', serif" font-weight="bold" font-size="10.35" stroke="#000" stroke-width="0.15">Sporadic Hot Spot</text>
<rect x="307.4" y="225.96" width="24" height="12" fill="url(#osH)"/>
<text x="336" y="236.1" font-family="'Liberation Serif', 'Times New Roman', serif" font-weight="bold" font-size="10.35" stroke="#000" stroke-width="0.15">Oscillating Hot Spot</text>
<rect x="307.4" y="242.22000000000003" width="24" height="12" fill="#e8c2ac"/>
<text x="336" y="252.3" font-family="'Liberation Serif', 'Times New Roman', serif" font-weight="bold" font-size="10.35" stroke="#000" stroke-width="0.15">Historical Hot Spot</text>
<rect x="307.9" y="258.98" width="23" height="11" fill="#fff" stroke="#d8d0d0" stroke-width="1"/>
<rect x="310.0" y="261.68" width="18.8" height="5.6" fill="#1a54a4"/>
<text x="336" y="268.6" font-family="'Liberation Serif', 'Times New Roman', serif" font-weight="bold" font-size="10.35" stroke="#000" stroke-width="0.15">New Cold Spot</text>
<rect x="307.4" y="274.74" width="24" height="12" fill="#4a72a8"/>
<text x="336" y="284.8" font-family="'Liberation Serif', 'Times New Roman', serif" font-weight="bold" font-size="10.35" stroke="#000" stroke-width="0.15">Consecutive Cold Spot</text>
<rect x="307.4" y="291.0" width="24" height="12" fill="url(#inC)"/>
<text x="336" y="301.1" font-family="'Liberation Serif', 'Times New Roman', serif" font-weight="bold" font-size="10.35" stroke="#000" stroke-width="0.15">Intensifying Cold Spot</text>
<rect x="307.4" y="307.26" width="24" height="12" fill="#15427c"/>
<text x="336" y="317.4" font-family="'Liberation Serif', 'Times New Roman', serif" font-weight="bold" font-size="10.35" stroke="#000" stroke-width="0.15">Persistent Cold Spot</text>
<rect x="307.4" y="323.52" width="24" height="12" fill="url(#dmC)"/>
<text x="336" y="333.6" font-family="'Liberation Serif', 'Times New Roman', serif" font-weight="bold" font-size="10.35" stroke="#000" stroke-width="0.15">Diminishing Cold Spot</text>
<rect x="307.4" y="339.78000000000003" width="24" height="12" fill="url(#spC)"/>
<text x="336" y="349.9" font-family="'Liberation Serif', 'Times New Roman', serif" font-weight="bold" font-size="10.35" stroke="#000" stroke-width="0.15">Sporadic Cold Spot</text>
<rect x="307.4" y="356.04" width="24" height="12" fill="url(#osC)"/>
<text x="336" y="366.1" font-family="'Liberation Serif', 'Times New Roman', serif" font-weight="bold" font-size="10.35" stroke="#000" stroke-width="0.15">Oscillating Cold Spot</text>
<rect x="307.4" y="372.30000000000007" width="24" height="12" fill="#b9c9dc"/>
<text x="336" y="382.4" font-family="'Liberation Serif', 'Times New Roman', serif" font-weight="bold" font-size="10.35" stroke="#000" stroke-width="0.15">Historical Cold Spot</text>
<rect x="307.9" y="389.06000000000006" width="23" height="11" fill="#fff" stroke="#c8c8d0" stroke-width="1"/>
<text x="336" y="398.7" font-family="'Liberation Serif', 'Times New Roman', serif" font-weight="bold" font-size="10.35" stroke="#000" stroke-width="0.15">No Pattern Detected</text>
<rect x="308.29999999999995" y="405.72" width="22.2" height="10.2" fill="#fff" stroke="#2e8a2a" stroke-width="1.8"/>
<text x="336" y="414.9" font-family="'Liberation Serif', 'Times New Roman', serif" font-weight="bold" font-size="10.35" stroke="#000" stroke-width="0.15">30m buffer</text>
<rect x="308.29999999999995" y="421.98" width="22.2" height="10.2" fill="#fff" stroke="#5ee01e" stroke-width="1.8"/>
<text x="336" y="431.2" font-family="'Liberation Serif', 'Times New Roman', serif" font-weight="bold" font-size="10.35" stroke="#000" stroke-width="0.15">60m buffer</text>
<rect x="308.29999999999995" y="438.24" width="22.2" height="10.2" fill="#fff" stroke="#eaf590" stroke-width="1.8"/>
<text x="336" y="447.4" font-family="'Liberation Serif', 'Times New Roman', serif" font-weight="bold" font-size="10.35" stroke="#000" stroke-width="0.15">90m buffer</text>
<rect x="308.29999999999995" y="454.5" width="22.2" height="10.2" fill="#fff" stroke="#d040d0" stroke-width="1.8"/>
<text x="336" y="463.7" font-family="'Liberation Serif', 'Times New Roman', serif" font-weight="bold" font-size="10.35" stroke="#000" stroke-width="0.15">City area</text>
</svg>
</body></html>
